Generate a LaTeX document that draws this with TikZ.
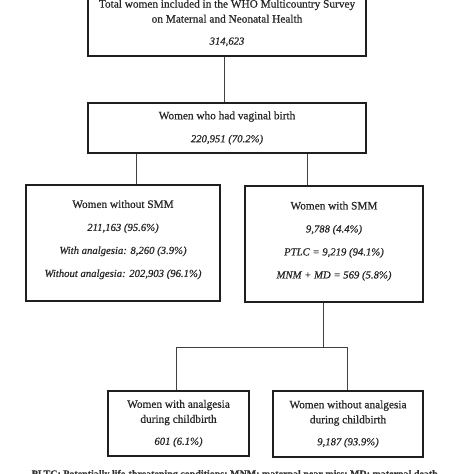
\documentclass[tikz,border=0pt]{standalone}
\usepackage{fontspec}
\setmainfont{Liberation Serif}[FakeBold=0.6]
\newcommand{\numtxt}[1]{{\fontsize{10.7}{15}\selectfont\itshape #1}}
\begin{document}
\begin{tikzpicture}[x=1pt,y=-1pt,
  box/.style={draw=black!88,line width=1.8pt,align=center,inner sep=0pt,text=black!85,font=\fontsize{11.3}{15}\selectfont},
  conn/.style={draw=black!75,line width=0.9pt}]
\useasboundingbox (0,0) rectangle (474,474);
\clip (0,0) rectangle (474,474);
\node[box,minimum width=278,minimum height=66] (b1) at (227,23)
  {Total women included in the WHO Multicountry Survey\\on Maternal and Neonatal Health\\[7pt]\numtxt{314,623}};
\node[box,minimum width=278,minimum height=50] (b2) at (227,128)
  {Women who had vaginal birth\\[8pt]\numtxt{220,951 (70.2\%)}};
\node[box,minimum width=194,minimum height=116] (b3) at (123,243)
  {Women without SMM\\[8pt]\numtxt{211,163 (95.6\%)}\\[8pt]\numtxt{With analgesia: 8,260 (3.9\%)}\\[8pt]\numtxt{Without analgesia: 202,903 (96.1\%)}\rule[-9pt]{0pt}{1pt}};
\node[box,minimum width=178,minimum height=116] (b4) at (334,244)
  {Women with SMM\\[8pt]\numtxt{9,788 (4.4\%)}\\[8pt]\numtxt{PTLC = 9,219 (94.1\%)}\\[8pt]\numtxt{MNM + MD = 569 (5.8\%)}\rule[-8pt]{0pt}{1pt}};
\node[box,minimum width=141,minimum height=65] (b5) at (178.5,423.5)
  {Women with analgesia\\during childbirth\\[7pt]\numtxt{601 (6.1\%)}};
\node[box,minimum width=150,minimum height=66] (b6) at (348,424)
  {Women without analgesia\\during childbirth\\[7pt]\numtxt{9,187 (93.9\%)}};
\coordinate (cl) at (136,0);
\coordinate (cr) at (307,0);
\coordinate (split) at (323,347);
\coordinate (jl) at (176,347);
\coordinate (jr) at (347,347);
\draw[conn] (b1.south -| 224,0) -- (b2.north -| 224,0);
\draw[conn] (b2.south -| cl) -- (b3.north -| cl);
\draw[conn] (b2.south -| cr) -- (b4.north -| cr);
\draw[conn] (b4.south -| split) -- (split);
\draw[conn] (b5.north -| jl) -- (jl) -- (jr) -- (b6.north -| jr);
\node[anchor=base,inner sep=0pt,font=\bfseries\fontsize{10}{12}\selectfont,text=black!80] (cap) at (236,477)
  {PLTC: Potentially life-threatening conditions; MNM: maternal near miss; MD: maternal death.};
\end{tikzpicture}
\end{document}
